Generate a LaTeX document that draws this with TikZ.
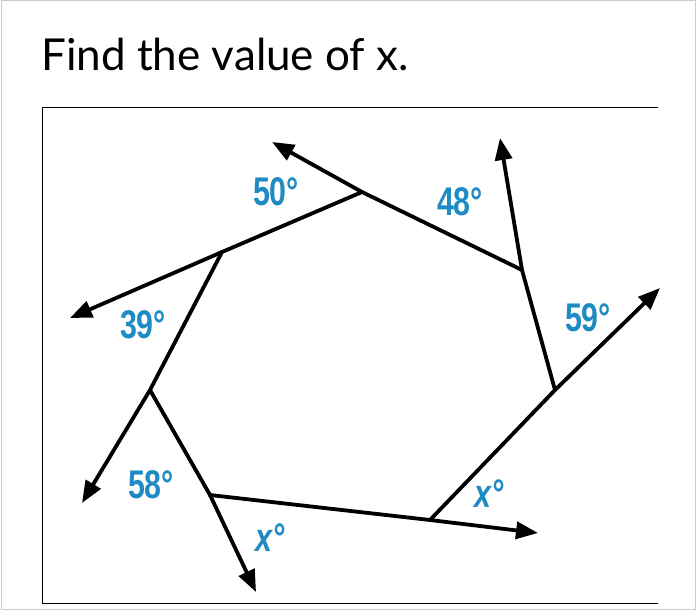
\documentclass[tikz,border=0pt]{standalone}
\usepackage{fontspec}
\setmainfont{Lato}
\newfontfamily\lbl{Liberation Sans}
\usetikzlibrary{arrows.meta}
\definecolor{lblue}{HTML}{1F8BC4}
\begin{document}
\begin{tikzpicture}[x=1pt,y=-1pt,
  ray/.style={line width=3.8pt,-{Triangle[length=22pt,width=17pt]}},
  side/.style={line width=3.8pt},
  ang/.style={text=lblue,font=\lbl\bfseries\fontsize{40}{40}\selectfont,inner sep=0pt,xscale=0.76}]
\useasboundingbox (0,0) rectangle (700,610);
\draw[gray!40,line width=1pt] (1,1) rectangle (695,609);
\node[anchor=west,font=\fontsize{44}{44}\selectfont,inner sep=0pt] (t) at (41,54) {Find the value of x.};
\draw[line width=1pt] (42,107) -- (658,107);
\draw[line width=1pt] (42,107) -- (42,603) -- (658,603);
\coordinate (A) at (362,192);
\coordinate (B) at (522,270);
\coordinate (C) at (555,390);
\coordinate (D) at (430,520);
\coordinate (E) at (210,495);
\coordinate (F) at (150,390);
\coordinate (G) at (222,252);
\coordinate (a) at (272,142);
\coordinate (b) at (500,138);
\coordinate (c) at (660,288);
\coordinate (d) at (538,533);
\coordinate (e) at (256,592);
\coordinate (f) at (82,503);
\coordinate (g) at (70,318);
\draw[side,line join=miter] (A) -- (B) -- (C) -- (D) -- (E) -- (F) -- (G) -- cycle;
\draw[ray] (A) -- (a);
\draw[ray] (B) -- (b);
\draw[ray] (C) -- (c);
\draw[ray] (D) -- (d);
\draw[ray] (E) -- (e);
\draw[ray] (F) -- (f);
\draw[ray] (G) -- (g);
\node[ang] (l50) at (276,192) {50°};
\node[ang] (l48) at (460,202) {48°};
\node[ang] (l39) at (143,325) {39°};
\node[ang] (l59) at (588,318) {59°};
\node[ang] (l58) at (151,485) {58°};
\node[ang] (lx1) at (270,538) {\itshape x°};
\node[ang] (lx2) at (489,494) {\itshape x°};
\end{tikzpicture}
\end{document}
